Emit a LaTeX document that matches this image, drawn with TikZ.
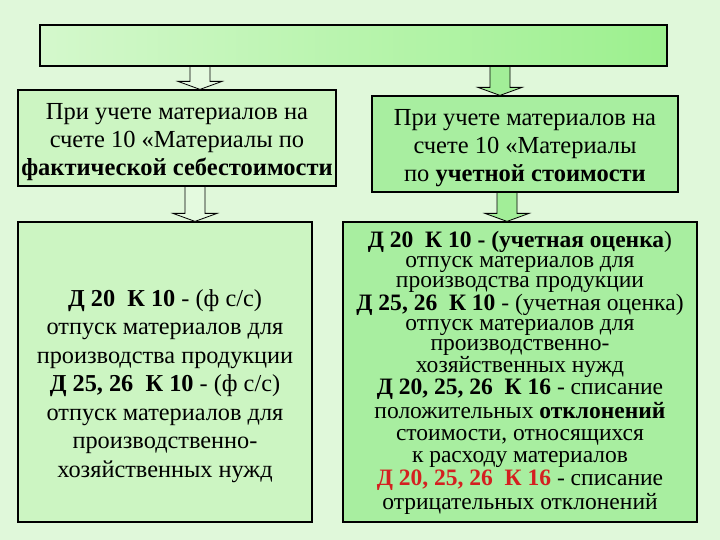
\documentclass[tikz,border=0pt]{standalone}
\usepackage{fontspec}
\setmainfont{Liberation Serif}
\usetikzlibrary{calc}

\definecolor{bgcol}{HTML}{E0F8DA}
\definecolor{lightbox}{HTML}{CCF5C2}
\definecolor{greenbox}{HTML}{A8EEA0}
\definecolor{headl}{HTML}{D4F8CC}
\definecolor{headr}{HTML}{9CF08E}
\definecolor{arrlight}{HTML}{E4FADF}
\definecolor{arrgreen}{HTML}{A2EE98}
\definecolor{redtxt}{HTML}{D42020}

\newcommand{\headtxt}{\fontsize{24.6}{28}\selectfont}
\newcommand{\opstxt}{\fontsize{24.4}{28.7}\selectfont}
\newcommand{\devtxt}{\fontsize{23.6}{20.2}\selectfont}

%% hollow block arrow between two points
\newcommand{\blockarr}[3]{%
  \filldraw[fill=#3, line width=0.8bp] let \p1=(#1), \p2=(#2) in
    (\x1-10bp,\y1) -- (\x1+10bp,\y1) -- (\x1+10bp,\y2+8bp) -- (\x1+22bp,\y2+8bp)
    -- (\x1,\y2) -- (\x1-22bp,\y2+8bp) -- (\x1-10bp,\y2+8bp) -- cycle;}

\tikzset{
  box/.style={draw=black, line width=1.2bp, inner sep=0pt, align=center},
}

\begin{document}
\begin{tikzpicture}[x=1bp, y=-1bp]
    \fill[bgcol] (0,0) rectangle (720,540);
    \useasboundingbox (0,0) rectangle (720,540);
    %% top
    \node[box, left color=headl, right color=headr, minimum width=627bp, minimum height=41bp] (head) at (353.5,45.5) {};
    %% second row
    \node[box, fill=lightbox, minimum width=318bp, minimum height=96bp, font=\headtxt] (fact) at (177,138)
      {\rule{0pt}{24bp}При учете материалов на\\ счете 10 «Материалы по\\ \textbf{фактической себестоимости}};
    \node[box, fill=greenbox, minimum width=306bp, minimum height=96bp, font=\headtxt] (uchet) at (525,144)
      {\rule{0pt}{24bp}При учете материалов на\\ счете 10 «Материалы\\ по \textbf{учетной стоимости}};
    %% third row
    \node[box, fill=lightbox, minimum width=294bp, minimum height=300bp] (factbox) at (165,372) {};
    \node[font=\opstxt, align=center] (factops) at (165,386)
      {\textbf{Д 20 \ К 10} - (ф с/с)\\ отпуск материалов для\\ производства продукции\\
       \textbf{Д 25, 26 \ К 10} - (ф с/с)\\ отпуск материалов для\\ производственно-\\ хозяйственных нужд};
    \node[box, fill=greenbox, minimum width=354bp, minimum height=300bp] (uchetbox) at (520,372) {};
    \node[font=\devtxt, align=center] (uchetops) at (520,373)
      {\textbf{Д 20 \ К 10 - (учетная оценка})\\ отпуск материалов для\\ производства продукции\\
       \textbf{Д 25, 26 \ К 10} - (учетная оценка)\\ отпуск материалов для\\ производственно-\\ хозяйственных нужд\\
       \textbf{Д 20, 25, 26 \ К 16} - списание\\[1.5bp] положительных \textbf{отклонений}\\[2.5bp]
       стоимости, относящихся\\[1.5bp] к расходу материалов\\[1.5bp]
       \textcolor{redtxt}{\textbf{Д 20, 25, 26 \ К 16}} - списание\\[2bp] отрицательных отклонений};
    %% arrows
    \coordinate (la) at (200,0);
    \coordinate (ra) at (500,0);
    \coordinate (lb) at (195,0);
    \coordinate (rb) at (507,0);
    \blockarr{head.south -| la}{fact.north -| la}{arrlight}
    \blockarr{head.south -| ra}{uchet.north -| ra}{arrgreen}
    \blockarr{fact.south -| lb}{factbox.north -| lb}{arrlight}
    \blockarr{uchet.south -| rb}{uchetbox.north -| rb}{arrgreen}
\end{tikzpicture}
\end{document}
